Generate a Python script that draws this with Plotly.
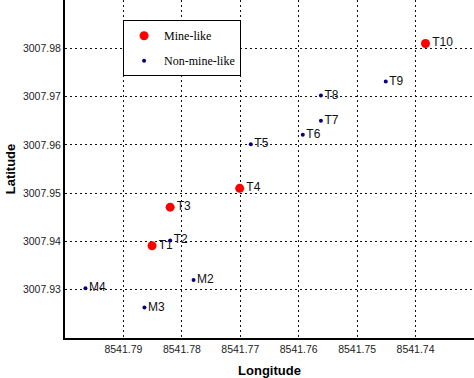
import plotly.graph_objects as go

# Mine-like targets
mine_labels = ["T1", "T3", "T4", "T10"]
mine_lon = [8541.7851, 8541.7820, 8541.7701, 8541.7383]
mine_lat = [3007.9391, 3007.9471, 3007.9510, 3007.9810]

# Non-mine-like targets
non_labels = ["T2", "T5", "T6", "T7", "T8", "T9", "M2", "M3", "M4"]
non_lon = [8541.7820, 8541.7682, 8541.7593, 8541.7562, 8541.7562, 8541.7451, 8541.7780, 8541.7864, 8541.7965]
non_lat = [3007.9402, 3007.9601, 3007.9621, 3007.9650, 3007.9702, 3007.9731, 3007.9320, 3007.9263, 3007.9303]

x_ticks = [8541.79, 8541.78, 8541.77, 8541.76, 8541.75, 8541.74]
y_ticks = [3007.93, 3007.94, 3007.95, 3007.96, 3007.97, 3007.98]

fig = go.Figure()
fig.add_trace(go.Scatter(
    x=mine_lon, y=mine_lat, text=mine_labels, mode="markers+text",
    textposition="middle right", name="Mine-like", legendgroup="a",
    marker=dict(color="#ff0000", size=9),
    textfont=dict(family="Liberation Sans, Arial", size=12, color="#111"),
))
fig.add_trace(go.Scatter(
    x=non_lon, y=non_lat, text=non_labels, mode="markers+text",
    textposition="middle right", name="Non-mine-like", legendgroup="b",
    marker=dict(color="#000080", size=4),
    textfont=dict(family="Liberation Sans, Arial", size=12, color="#111"),
))

axis_common = dict(
    showline=True, linecolor="black", linewidth=2, mirror=False,
    showgrid=True, gridcolor="#111", gridwidth=1, griddash="2px,3px",
    zeroline=False, ticks="", automargin=False,
    tickfont=dict(family="Liberation Sans, Arial", size=10.5, color="#222"),
    title_font=dict(family="Liberation Sans, Arial", size=13, color="black"),
)

fig.update_layout(
    width=474, height=378,
    margin=dict(l=65, r=0, t=0, b=40),
    plot_bgcolor="white", paper_bgcolor="white",
    xaxis=dict(range=[8541.80, 8541.73], tickvals=x_ticks,
               ticktext=[f"{v:.2f}" for v in x_ticks],
               title=dict(text="<b>Longitude</b>", standoff=12), **axis_common),
    yaxis=dict(range=[3007.92, 3007.99], tickvals=y_ticks,
               ticktext=[f"{v:.2f}" for v in y_ticks],
               title=dict(text="<b>Latitude</b>", standoff=4), **axis_common),
    legend=dict(x=0.142, y=0.94, xanchor="left", yanchor="top",
                bgcolor="white", bordercolor="black", borderwidth=1,
                font=dict(family="Liberation Serif, Times New Roman", size=12, color="black"),
                tracegroupgap=6, traceorder="grouped", itemwidth=30),
    showlegend=True,
)

fig.write_html("out.html", config={"displayModeBar": False},
               post_script="document.body.style.margin='0';document.body.style.overflow='hidden';")
